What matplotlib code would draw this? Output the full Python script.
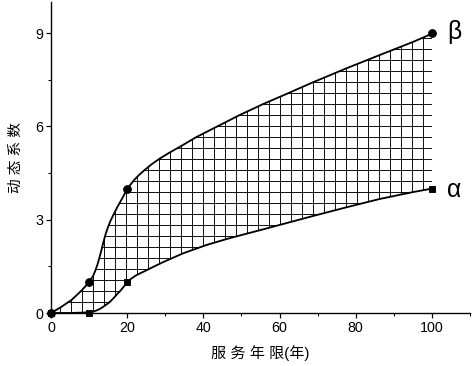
import numpy as np
import matplotlib.pyplot as plt
from matplotlib.ticker import MultipleLocator

plt.rcParams['font.family'] = ['Liberation Sans', 'Noto Sans CJK SC']
plt.rcParams['hatch.linewidth'] = 1.0

# measured points (markers)
x_pts = [0, 10, 20, 100]
beta_pts = [0, 1, 4, 9]
alpha_pts = [0, 0, 1, 4]

# curves
beta_x = [0, 2.5, 5.4, 8, 10, 11, 11.7, 12.3, 12.8, 13.3, 13.8, 14.3, 14.9, 15.6, 16.4,
          17.3, 18.3, 19.2, 20, 21, 22, 23.2, 24.5, 26.5, 28.6, 31, 33.9, 38.2, 43.5,
          49.6, 55.7, 61, 68.8, 77.6, 86.4, 95.1, 100]
beta_y = [0, 0.18, 0.42, 0.72, 0.99, 1.18, 1.38, 1.6, 1.82, 2.05, 2.3, 2.52, 2.74, 2.96, 3.16,
          3.38, 3.6, 3.8, 3.99, 4.15, 4.3, 4.45, 4.59, 4.79, 4.97, 5.15, 5.35, 5.66, 5.99,
          6.37, 6.72, 7.0, 7.42, 7.87, 8.3, 8.72, 8.98]
alpha_x = [0, 5, 10, 11, 11.9, 12.8, 13.6, 14.4, 15.2, 15.9, 16.6, 17.3, 18.1, 18.8, 19.5,
           20, 21, 22.2, 23.3, 24.5, 26.8, 29.5, 34.7, 40.9, 47, 55.7, 62.7, 68.8, 77.6,
           86.4, 95.1, 100]
alpha_y = [0, 0, 0.02, 0.04, 0.08, 0.13, 0.19, 0.26, 0.33, 0.41, 0.5, 0.6, 0.7, 0.8, 0.91,
           0.99, 1.1, 1.2, 1.27, 1.34, 1.48, 1.64, 1.92, 2.19, 2.41, 2.69, 2.92, 3.12, 3.4,
           3.67, 3.89, 4.0]

fig = plt.figure(figsize=(474 / 66, 366 / 66), dpi=66)
ax = fig.add_axes([0.1076, 0.1448, 0.8840, 0.8497])

# hatched band between the two curves
poly_x = np.concatenate([beta_x, alpha_x[::-1]])
poly_y = np.concatenate([beta_y, alpha_y[::-1]])
ax.fill(poly_x, poly_y, facecolor='white', edgecolor='black', hatch='+', linewidth=0)

ax.plot(beta_x, beta_y, color='black', lw=2.0, clip_on=False, solid_joinstyle='round')
ax.plot(alpha_x, alpha_y, color='black', lw=2.0, clip_on=False, solid_joinstyle='round')
ax.plot(x_pts, beta_pts, 'o', color='black', ms=8.5, clip_on=False, zorder=5)
ax.plot(x_pts, alpha_pts, 's', color='black', ms=7, clip_on=False, zorder=5)

ax.text(104, 9.05, 'β', fontsize=27, va='center', ha='left')
ax.text(104, 3.95, 'α', fontsize=27, va='center', ha='left')

ax.set_xlim(0, 110)
ax.set_ylim(0, 10)
ax.xaxis.set_major_locator(MultipleLocator(20))
ax.xaxis.set_minor_locator(MultipleLocator(10))
ax.yaxis.set_major_locator(MultipleLocator(3))
ax.yaxis.set_minor_locator(MultipleLocator(1.5))
ax.spines['top'].set_visible(False)
ax.spines['right'].set_visible(False)
for s in ['left', 'bottom']:
    ax.spines[s].set_linewidth(1.5)
ax.tick_params(which='major', length=5, width=1.3, labelsize=15.5, direction='out')
ax.tick_params(which='minor', length=3, width=1.1, direction='out')

ax.set_xlabel('服 务 年 限(年)', fontsize=16.5, labelpad=11)
ax.set_ylabel('动 态 系 数', fontsize=16, labelpad=14)

fig.savefig('out.png', dpi=66)
